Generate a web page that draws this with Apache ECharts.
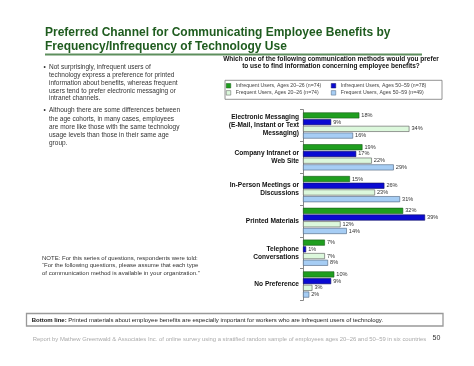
<!DOCTYPE html>
<html><head><meta charset="utf-8">
<script src="https://cdn.jsdelivr.net/npm/echarts@6/dist/echarts.min.js"></script>
<style>html,body{margin:0;padding:0;background:#fff}#c{width:474px;height:366px}</style>
</head><body><div id="c"></div>
<script>
const categories = [
  "Electronic Messaging\n(E-Mail, Instant or Text\nMessaging)",
  "Company Intranet or\nWeb Site",
  "In-Person Meetings or\nDiscussions",
  "Printed Materials",
  "Telephone\nConversations",
  "No Preference"
];
const seriesNames = [
  "Infrequent Users, Ages 20\u201326 (n=74)",
  "Infrequent Users, Ages 50\u201359 (n=78)",
  "Frequent Users, Ages 20\u201326 (n=74)",
  "Frequent Users, Ages 50\u201359 (n=49)"
];
const infrequent2026 = [18, 19, 15, 32, 7, 10];
const infrequent5059 = [9, 17, 26, 39, 1, 9];
const frequent2026 = [34, 22, 23, 12, 7, 3];
const frequent5059 = [16, 29, 31, 14, 8, 2];
const seriesValues = [infrequent2026, infrequent5059, frequent2026, frequent5059];
const colors = ["#1f9e1f", "#0a0ad2", "#dcf8dc", "#a6cdf4"];
const borders = ["#1a5a1a", "#101060", "#555555", "#4a607a"];

const FONT = "Liberation Sans, Arial, Helvetica, sans-serif";
const chart = echarts.init(document.getElementById('c'), null, {renderer: 'canvas'});

const series = seriesValues.map((vals, i) => ({
  name: seriesNames[i],
  type: 'bar',
  data: vals,
  barWidth: 6,
  barGap: '12%',
  itemStyle: {color: colors[i], borderColor: borders[i], borderWidth: 0.6},
  label: {show: true, position: 'right', distance: 2, formatter: '{c}%', fontSize: 5.6, color: '#333', fontFamily: FONT},
  animation: false
}));

const bullet1 = "Not surprisingly, infrequent users of\ntechnology express a preference for printed\ninformation about benefits, whereas frequent\nusers tend to prefer electronic messaging or\nintranet channels.";
const bullet2 = "Although there are some differences between\nthe age cohorts, in many cases, employees\nare more like those with the same technology\nusage levels than those in their same age\ngroup.";
const note = "NOTE: For this series of questions, respondents were told:\n\u201cFor the following questions, please assume that each type\nof communication method is available in your organization.\u201d";

const legendCommon = {
  orient: 'vertical', top: 83, padding: 0,
  itemWidth: 4.5, itemHeight: 4.5, itemGap: 1.6, icon: 'rect',
  itemStyle: {borderWidth: 0.5},
  textStyle: {fontSize: 5.2, color: '#444', lineHeight: 5.5, fontFamily: FONT},
  selectedMode: false
};

const option = {
  animation: false,
  textStyle: {fontFamily: FONT},
  title: {
    text: "Preferred Channel for Communicating Employee Benefits by\nFrequency/Infrequency of Technology Use",
    left: 45, top: 26, padding: 0,
    textStyle: {fontSize: 12, fontWeight: 'bold', color: '#1f5c1f', lineHeight: 14, fontFamily: FONT}
  },
  legend: [
    Object.assign({data: [seriesNames[0], seriesNames[2]], left: 226}, legendCommon),
    Object.assign({data: [seriesNames[1], seriesNames[3]], left: 331}, legendCommon)
  ],
  grid: {left: 303, top: 109.6, width: 156.5, height: 190.8, containLabel: false},
  xAxis: {type: 'value', min: 0, max: 50, show: false},
  yAxis: {
    type: 'category', data: categories, inverse: true,
    axisLine: {show: true, lineStyle: {color: '#888', width: 1}},
    axisTick: {show: true, length: 3, lineStyle: {color: '#888'}},
    axisLabel: {fontSize: 6.6, fontWeight: 'bold', color: '#111', lineHeight: 8, margin: 4, fontFamily: FONT, align: 'right'}
  },
  series: series,
  graphic: [
    {type: 'line', shape: {x1: 45, y1: 54.5, x2: 422, y2: 54.5}, style: {stroke: '#5e8f5e', lineWidth: 2}},
    {type: 'text', x: 331, y: 63, style: {text: "Which one of the following communication methods would you prefer\nto use to find information concerning employee benefits?", fontSize: 6.5, fontWeight: 'bold', fill: '#111', align: 'center', verticalAlign: 'middle', lineHeight: 7, fontFamily: FONT}},
    {type: 'rect', shape: {x: 225, y: 80.3, width: 217, height: 19}, style: {fill: 'none', stroke: '#777', lineWidth: 0.8}, z: -1},
    {type: 'text', x: 43.5, y: 67.7, style: {text: "\u2022", fontSize: 6.5, fill: '#333', verticalAlign: 'middle', fontFamily: FONT}},
    {type: 'text', x: 49, y: 63.8, style: {text: bullet1, fontSize: 6.5, fill: '#333', lineHeight: 7.7, verticalAlign: 'top', fontFamily: FONT}},
    {type: 'text', x: 43.5, y: 110.7, style: {text: "\u2022", fontSize: 6.5, fill: '#333', verticalAlign: 'middle', fontFamily: FONT}},
    {type: 'text', x: 49, y: 106.6, style: {text: bullet2, fontSize: 6.5, fill: '#333', lineHeight: 8.1, verticalAlign: 'top', fontFamily: FONT}},
    {type: 'text', x: 42, y: 254.5, style: {text: note, fontSize: 6, fill: '#333', lineHeight: 7.5, verticalAlign: 'top', fontFamily: FONT}},
    {type: 'rect', shape: {x: 26.5, y: 313.5, width: 416.5, height: 12.5}, style: {fill: '#fff', stroke: '#999', lineWidth: 1.3}},
    {type: 'text', x: 31.7, y: 320, style: {text: "{b|Bottom line:} Printed materials about employee benefits are especially important for workers who are infrequent users of technology.", verticalAlign: 'middle', fontSize: 6, fill: '#222', fontFamily: FONT,
      rich: {b: {fontWeight: 'bold', fontSize: 6, fill: '#111', fontFamily: FONT}}}},
    {type: 'text', x: 32.7, y: 339.3, style: {text: "Report by Mathew Greenwald & Associates Inc. of online survey using a stratified random sample of employees ages 20\u201326 and 50\u201359 in six countries", fontSize: 5.9, fill: '#aaa', verticalAlign: 'middle', fontFamily: FONT}},
    {type: 'text', x: 432.5, y: 338, style: {text: "50", fontSize: 7, fill: '#333', verticalAlign: 'middle', fontFamily: FONT}}
  ]
};
chart.setOption(option);
</script></body></html>
